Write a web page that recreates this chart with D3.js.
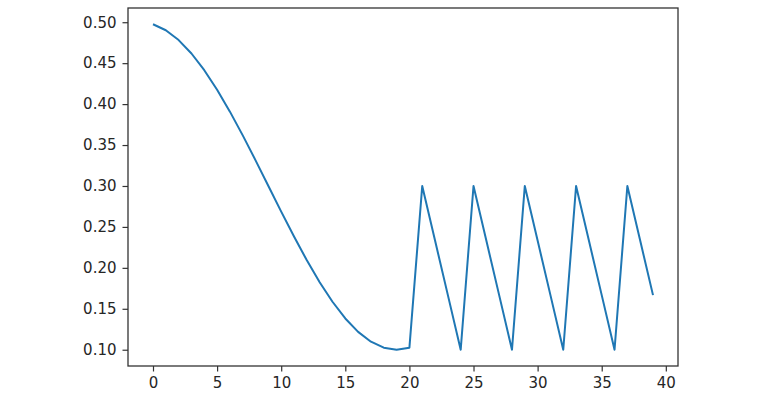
<!DOCTYPE html>
<html>
<head>
<meta charset="utf-8">
<script src="https://cdn.jsdelivr.net/npm/d3@7"></script>
<style>
  body { margin: 0; background: #fff; }
  .tick text { font-family: "DejaVu Sans", sans-serif; font-size: 15px; fill: #262626; }
  .tick line { stroke: #333; stroke-width: 1.2; }
</style>
</head>
<body>
<div id="chart"></div>
<script>
// learning rate per step
const steps = d3.range(0, 40);
const lr = [
  0.4975, 0.4902, 0.4782, 0.4618, 0.4414, 0.4176, 0.3908, 0.3618, 0.3313, 0.3000,
  0.2687, 0.2382, 0.2092, 0.1824, 0.1586, 0.1382, 0.1218, 0.1098, 0.1025, 0.1000,
  0.1025, 0.3000, 0.2333, 0.1667, 0.1000, 0.3000, 0.2333, 0.1667, 0.1000, 0.3000,
  0.2333, 0.1667, 0.1000, 0.3000, 0.2333, 0.1667, 0.1000, 0.3000, 0.2333, 0.1667
];
const xTicks = [0, 5, 10, 15, 20, 25, 30, 35, 40];
const yTicks = [0.10, 0.15, 0.20, 0.25, 0.30, 0.35, 0.40, 0.45, 0.50];

const width = 768, height = 400;
const margin = { top: 8, right: 90, bottom: 34, left: 128 };

const svg = d3.select("#chart").append("svg")
    .attr("width", width)
    .attr("height", height);

// matplotlib style 5% padding around the data
const xPad = (39 - 0) * 0.05;
const yMin = d3.min(lr), yMax = d3.max(lr);
const yPad = (yMax - yMin) * 0.05;

const x = d3.scaleLinear()
    .domain([0 - xPad, 39 + xPad])
    .range([margin.left, width - margin.right]);

const y = d3.scaleLinear()
    .domain([yMin - yPad, yMax + yPad])
    .range([height - margin.bottom, margin.top]);

// line
svg.append("path")
    .datum(steps)
    .attr("fill", "none")
    .attr("stroke", "#1f77b4")
    .attr("stroke-width", 2)
    .attr("stroke-linejoin", "round")
    .attr("d", d3.line()
        .x(d => x(d))
        .y(d => y(lr[d])));

// axes
svg.append("g")
    .attr("transform", "translate(0," + (height - margin.bottom) + ")")
    .call(d3.axisBottom(x).tickValues(xTicks).tickSize(5.5).tickPadding(6).tickFormat(d3.format("d")))
    .call(g => g.select(".domain").remove());

svg.append("g")
    .attr("transform", "translate(" + margin.left + ",0)")
    .call(d3.axisLeft(y).tickValues(yTicks).tickSize(5.5).tickPadding(6).tickFormat(d3.format(".2f")))
    .call(g => g.select(".domain").remove());

// frame
svg.append("rect")
    .attr("x", margin.left)
    .attr("y", margin.top)
    .attr("width", width - margin.left - margin.right)
    .attr("height", height - margin.top - margin.bottom)
    .attr("fill", "none")
    .attr("stroke", "#333")
    .attr("stroke-width", 1.3);
</script>
</body>
</html>
